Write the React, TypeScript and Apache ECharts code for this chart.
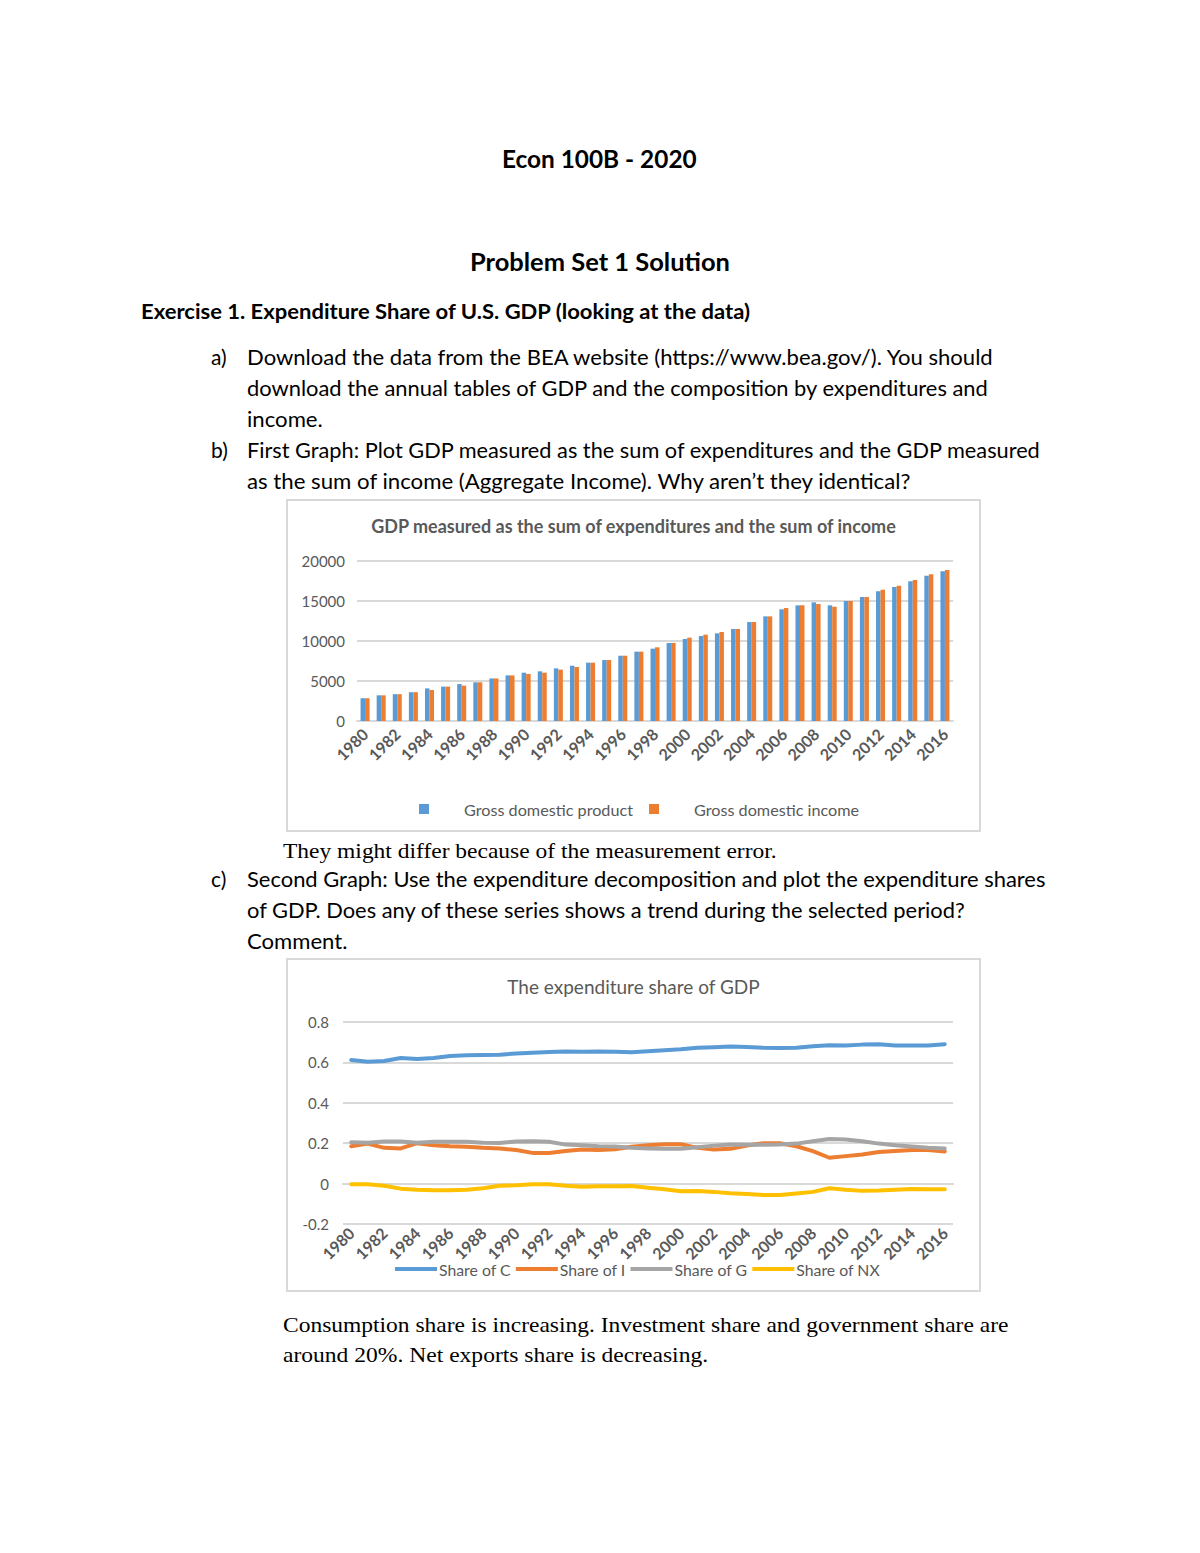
import React, { useEffect, useLayoutEffect, useRef } from 'react';
import * as echarts from 'echarts';

const years = [
    '1980', '1981', '1982', '1983', '1984', '1985', '1986', '1987', '1988', '1989',
    '1990', '1991', '1992', '1993', '1994', '1995', '1996', '1997', '1998', '1999',
    '2000', '2001', '2002', '2003', '2004', '2005', '2006', '2007', '2008', '2009',
    '2010', '2011', '2012', '2013', '2014', '2015', '2016'
];

const gdpValues = [
    2850, 3210, 3350, 3600, 4080, 4300, 4620, 4840, 5320, 5700,
    6040, 6210, 6580, 6910, 7290, 7620, 8160, 8670, 9040, 9750,
    10250, 10620, 10960, 11500, 12370, 13080, 13960, 14460, 14830, 14460,
    15000, 15500, 16210, 16750, 17460, 18170, 18710
];

const gdiValues = [
    2850, 3210, 3350, 3600, 3880, 4300, 4420, 4840, 5320, 5700,
    5880, 6040, 6420, 6750, 7290, 7620, 8160, 8670, 9210, 9750,
    10420, 10790, 11120, 11500, 12370, 13080, 14120, 14460, 14620, 14290,
    15000, 15500, 16420, 16920, 17620, 18330, 18870
];

const shareC = [
    0.612, 0.603, 0.607, 0.622, 0.617, 0.622, 0.632, 0.636, 0.637, 0.638,
    0.644, 0.648, 0.651, 0.654, 0.653, 0.654, 0.653, 0.650, 0.655, 0.660,
    0.665, 0.672, 0.675, 0.679, 0.676, 0.672, 0.671, 0.673, 0.680, 0.685,
    0.684, 0.688, 0.690, 0.684, 0.684, 0.684, 0.690
];

const shareI = [
    0.185, 0.198, 0.177, 0.174, 0.200, 0.190, 0.185, 0.182, 0.177, 0.174,
    0.166, 0.152, 0.151, 0.161, 0.169, 0.166, 0.170, 0.182, 0.190, 0.195,
    0.195, 0.177, 0.169, 0.172, 0.189, 0.200, 0.200, 0.185, 0.161, 0.128,
    0.136, 0.144, 0.156, 0.161, 0.166, 0.166, 0.159
];

const shareG = [
    0.205, 0.202, 0.208, 0.208, 0.202, 0.207, 0.207, 0.207, 0.202, 0.201,
    0.208, 0.210, 0.207, 0.193, 0.190, 0.185, 0.184, 0.177, 0.174, 0.172,
    0.172, 0.180, 0.188, 0.193, 0.192, 0.192, 0.193, 0.198, 0.210, 0.221,
    0.218, 0.210, 0.198, 0.190, 0.184, 0.177, 0.174
];

const shareNX = [
    -0.003, -0.003, -0.011, -0.025, -0.031, -0.033, -0.033, -0.031, -0.023, -0.011,
    -0.008, -0.003, -0.003, -0.011, -0.015, -0.013, -0.013, -0.012, -0.020, -0.028,
    -0.038, -0.037, -0.041, -0.048, -0.052, -0.056, -0.056, -0.049, -0.041, -0.023,
    -0.031, -0.036, -0.034, -0.030, -0.027, -0.028, -0.028
];

const FONT = 'Lato, "Open Sans", sans-serif';
const SERIF = '"Liberation Serif", "DejaVu Serif", serif';
const GREY = '#595959';
const GRID = '#d9d9d9';

// one line of page text, stretched to the width it has in the scan
const TextLine: React.FC<{ x: number; y: number; w?: number; size: number; bold?: boolean; serif?: boolean; text: string }> =
    ({ x, y, w, size, bold, serif, text }) => {
        const ref = useRef<HTMLDivElement>(null);
        useLayoutEffect(() => {
            const el = ref.current;
            if (!el || !w) return;
            const natural = el.scrollWidth;
            if (natural) el.style.transform = `scaleX(${w / natural})`;
        }, [w]);
        return (
            <div
                ref={ref}
                style={{
                    position: 'absolute',
                    left: x,
                    top: y - size * 0.6,
                    fontSize: size,
                    lineHeight: 1.1,
                    fontFamily: serif ? SERIF : FONT,
                    fontWeight: bold ? 700 : 400,
                    whiteSpace: 'nowrap',
                    transformOrigin: 'left center',
                    color: '#000'
                }}
            >
                {text}
            </div>
        );
    };

const GdpChart: React.FC = () => {
    const chartRef = useRef<HTMLDivElement>(null);

    useEffect(() => {
        if (!chartRef.current) return;
        const chart = echarts.init(chartRef.current, undefined, { renderer: 'svg' });

        chart.setOption({
            animation: false,
            textStyle: { fontFamily: FONT },
            title: {
                text: 'GDP measured as the sum of expenditures and the sum of income',
                left: 'center',
                top: 11,
                textStyle: { fontSize: 18, fontWeight: 'bold', color: GREY, fontFamily: FONT }
            },
            legend: {
                left: 126,
                top: 295,
                itemWidth: 10,
                itemHeight: 10,
                itemGap: 16,
                icon: 'rect',
                textStyle: { fontSize: 16.2, color: GREY, padding: [0, 0, 0, 30] },
                data: ['Gross domestic product', 'Gross domestic income']
            },
            grid: { left: 69, right: 26, top: 60, bottom: 109 },
            xAxis: {
                type: 'category',
                data: years,
                axisLine: { lineStyle: { color: GRID, width: 2 } },
                axisTick: { show: false },
                axisLabel: { interval: 1, rotate: 45, fontSize: 16, fontWeight: 'bold', color: GREY, margin: 10 }
            },
            yAxis: {
                type: 'value',
                min: 0,
                max: 20000,
                interval: 5000,
                axisLine: { show: false },
                axisTick: { show: false },
                axisLabel: { fontSize: 15, color: GREY, margin: 12, formatter: (v: number) => String(v) },
                splitLine: { lineStyle: { color: GRID, width: 2 } }
            },
            series: [
                {
                    name: 'Gross domestic product',
                    type: 'bar',
                    data: gdpValues,
                    barWidth: 4.5,
                    barGap: '0%',
                    itemStyle: { color: '#5B9BD5' }
                },
                {
                    name: 'Gross domestic income',
                    type: 'bar',
                    data: gdiValues,
                    barWidth: 4.5,
                    itemStyle: { color: '#ED7D31' }
                }
            ]
        });

        return () => chart.dispose();
    }, []);

    return <div ref={chartRef} style={{ width: 691, height: 329 }} />;
};

const ShareChart: React.FC = () => {
    const chartRef = useRef<HTMLDivElement>(null);

    useEffect(() => {
        if (!chartRef.current) return;
        const chart = echarts.init(chartRef.current, undefined, { renderer: 'svg' });

        const line = (name: string, data: number[], color: string) => ({
            name,
            type: 'line',
            data,
            symbol: 'none',
            lineStyle: { color, width: 4, cap: 'round', join: 'round' },
            itemStyle: { color }
        });

        chart.setOption({
            animation: false,
            textStyle: { fontFamily: FONT },
            title: {
                text: 'The expenditure share of GDP',
                left: 'center',
                top: 12,
                textStyle: { fontSize: 19, fontWeight: 'normal', color: GREY, fontFamily: FONT }
            },
            legend: {
                left: 102,
                top: 296,
                icon: 'rect',
                itemWidth: 42,
                itemHeight: 4,
                itemGap: 5,
                textStyle: { fontSize: 15.8, color: GREY, padding: [0, 0, 0, -3] },
                data: ['Share of C', 'Share of I', 'Share of G', 'Share of NX']
            },
            grid: { left: 55, right: 26, top: 62, bottom: 66 },
            xAxis: {
                type: 'category',
                data: years,
                axisLine: { onZero: true, lineStyle: { color: GRID, width: 2 } },
                axisTick: { show: false },
                axisLabel: { interval: 1, rotate: 45, fontSize: 16, fontWeight: 'bold', color: GREY, margin: 6 }
            },
            yAxis: {
                type: 'value',
                min: -0.2,
                max: 0.8,
                interval: 0.2,
                axisLine: { show: false },
                axisTick: { show: false },
                axisLabel: { fontSize: 15, color: GREY, margin: 14 },
                splitLine: { lineStyle: { color: GRID, width: 2 } }
            },
            series: [
                line('Share of C', shareC, '#5B9BD5'),
                line('Share of I', shareI, '#ED7D31'),
                line('Share of G', shareG, '#A5A5A5'),
                line('Share of NX', shareNX, '#FFC000')
            ]
        });

        return () => chart.dispose();
    }, []);

    return <div ref={chartRef} style={{ width: 691, height: 330 }} />;
};

const boxStyle = (top: number): React.CSSProperties => ({
    position: 'absolute',
    left: 286,
    top,
    width: 691,
    border: `2px solid ${GRID}`,
    background: '#fff'
});

export default function App() {
    return (
        <div style={{ position: 'absolute', left: 0, top: 0, width: 1200, height: 1553, background: '#fff', overflow: 'hidden' }}>
            <TextLine x={502} y={160} w={195} size={24} bold text="Econ 100B - 2020" />
            <TextLine x={470} y={263} w={260} size={24} bold text="Problem Set 1 Solution" />
            <TextLine x={141} y={312} w={609} size={21} bold text="Exercise 1. Expenditure Share of U.S. GDP (looking at the data)" />

            <TextLine x={211} y={358} size={21} text="a)" />
            <TextLine x={247} y={358} w={746} size={21} text="Download the data from the BEA website (https://www.bea.gov/). You should" />
            <TextLine x={247} y={389} w={741} size={21} text="download the annual tables of GDP and the composition by expenditures and" />
            <TextLine x={247} y={420} w={76} size={21} text="income." />
            <TextLine x={211} y={451} size={21} text="b)" />
            <TextLine x={247} y={451} w={793} size={21} text="First Graph: Plot GDP measured as the sum of expenditures and the GDP measured" />
            <TextLine x={247} y={482} w={663} size={21} text="as the sum of income (Aggregate Income). Why aren’t they identical?" />

            <div style={boxStyle(499)}>
                <GdpChart />
            </div>

            <TextLine x={283} y={852} w={494} size={22} serif text="They might differ because of the measurement error." />
            <TextLine x={211} y={880} size={21} text="c)" />
            <TextLine x={247} y={880} w={798} size={21} text="Second Graph: Use the expenditure decomposition and plot the expenditure shares" />
            <TextLine x={247} y={911} w={718} size={21} text="of GDP. Does any of these series shows a trend during the selected period?" />
            <TextLine x={247} y={942} w={100} size={21} text="Comment." />

            <div style={boxStyle(958)}>
                <ShareChart />
            </div>

            <TextLine x={283} y={1326} w={725} size={22} serif text="Consumption share is increasing. Investment share and government share are" />
            <TextLine x={283} y={1356} w={425} size={22} serif text="around 20%. Net exports share is decreasing." />
        </div>
    );
}
